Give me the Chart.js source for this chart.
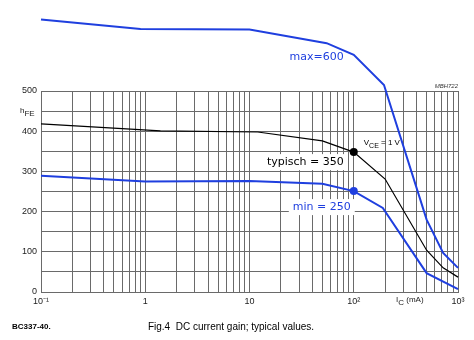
<!DOCTYPE html>
<html><head><meta charset="utf-8">
<script src="https://cdn.jsdelivr.net/npm/chart.js@4"></script>
<style>html,body{margin:0;padding:0;background:#fff}canvas{display:block}</style>
</head><body>
<canvas id="c" width="474" height="340"></canvas>
<script>
// I_C in mA, h_FE values
const maxI = [0.1, 0.9, 10, 55, 100, 195, 500, 720, 1000];
const maxH = [678, 654, 653, 619, 590, 515, 180, 97, 60];
const typI = [0.1, 1.4, 12, 50, 100, 200, 500, 720, 1000];
const typH = [418, 401, 398, 376, 348, 281, 104, 60, 37];
const minI = [0.1, 1, 10, 50, 100, 190, 500, 1000];
const minH = [289, 275, 276, 269, 251, 209, 47, 7];
const markI = [100, 100, 100];
const markH = [590, 348, 251];
const xTicks = [0.1,0.2,0.3,0.4,0.5,0.6,0.7,0.8,0.9,1,2,3,4,5,6,7,8,9,10,20,30,40,50,60,70,80,90,100,200,300,400,500,600,700,800,900,1000];
const xLabels = {0.1:'10\u207B\u00B9', 1:'1', 10:'10', 100:'10\u00B2', 1000:'10\u00B3'};
const yTicks = [0,50,100,150,200,250,300,350,400,450,500];
const yLabels = [0, 100, 200, 300, 400, 500];

const BLUE = '#1f3fdf';
const GRID = '#6a6a6a';
const pts = (xs, ys) => xs.map((x, i) => ({x, y: ys[i]}));

function subText(ctx, x, y, main, sub, rest, size, subSize) {
  ctx.textBaseline = 'alphabetic';
  ctx.textAlign = 'left';
  ctx.font = size + 'px "Liberation Sans", Arial';
  ctx.fillText(main, x, y);
  let w = ctx.measureText(main).width;
  ctx.font = subSize + 'px "Liberation Sans", Arial';
  ctx.fillText(sub, x + w, y + subSize * 0.35);
  w += ctx.measureText(sub).width;
  if (rest) {
    ctx.font = size + 'px "Liberation Sans", Arial';
    ctx.fillText(rest, x + w, y);
  }
}

const annot = {
  id: 'annot',
  afterDatasetsDraw(chart) {
    const ctx = chart.ctx, xs = chart.scales.x, ys = chart.scales.y;
    const px = xs.getPixelForValue(100);
    ctx.save();
    ctx.font = '11px "DejaVu Sans"';
    ctx.textAlign = 'right';
    ctx.textBaseline = 'middle';
    ctx.fillStyle = BLUE;
    ctx.fillText('max=600', px - 10, ys.getPixelForValue(markH[0]) + 2);
    let ty = ys.getPixelForValue(markH[1]) + 10;
    let w = ctx.measureText('typisch = 350').width;
    ctx.fillStyle = '#fff';
    ctx.fillRect(px - 10 - w - 4, ty - 8, w + 8, 16);
    ctx.fillStyle = '#000';
    ctx.fillText('typisch = 350', px - 10, ty);
    let my = ys.getPixelForValue(markH[2]) + 16;
    w = ctx.measureText('min = 250').width;
    ctx.fillStyle = '#fff';
    ctx.fillRect(px - 3 - w - 4, my - 8, w + 8, 16);
    ctx.fillStyle = BLUE;
    ctx.fillText('min = 250', px - 3, my);
    ctx.fillStyle = '#000';
    subText(ctx, px + 10, ys.getPixelForValue(markH[1]) - 7, 'V', 'CE', ' = 1 V', 8, 7);
    ctx.fillStyle = '#222';
    subText(ctx, 20, ys.getPixelForValue(450) + 2, 'h', 'FE', '', 8, 8);
    subText(ctx, 396, 302, 'I', 'C', ' (mA)', 8, 8);
    ctx.font = 'italic 6px "Liberation Sans", Arial';
    ctx.textAlign = 'right';
    ctx.textBaseline = 'alphabetic';
    ctx.fillStyle = '#333';
    ctx.fillText('MBH722', xs.right, ys.top - 3);
    ctx.fillStyle = '#000';
    ctx.font = 'bold 8px "Liberation Sans", Arial';
    ctx.textAlign = 'left';
    ctx.textBaseline = 'middle';
    ctx.fillText('BC337-40.', 12, 327);
    ctx.font = '10px "Liberation Sans", Arial';
    ctx.textAlign = 'center';
    ctx.fillText('Fig.4  DC current gain; typical values.', 231, 327);
    ctx.restore();
  }
};

new Chart(document.getElementById('c'), {
  type: 'line',
  data: {
    datasets: [
      {data: pts(maxI, maxH), borderColor: BLUE, borderWidth: 2, pointRadius: 0, clip: false, tension: 0},
      {data: pts(typI, typH), borderColor: '#000', borderWidth: 1.2, pointRadius: 0, clip: false, tension: 0},
      {data: pts(minI, minH), borderColor: BLUE, borderWidth: 2, pointRadius: 0, clip: false, tension: 0},
      {data: pts(markI, markH), showLine: false, pointRadius: 4, pointBorderWidth: 0,
       pointBackgroundColor: [BLUE, '#000', BLUE], pointBorderColor: [BLUE, '#000', BLUE], clip: false}
    ]
  },
  options: {
    responsive: false,
    animation: false,
    devicePixelRatio: 1,
    layout: {padding: {top: 91, right: 16, left: 0, bottom: 28}},
    plugins: {legend: {display: false}, tooltip: {enabled: false}},
    scales: {
      x: {
        type: 'logarithmic', min: 0.1, max: 1000,
        afterBuildTicks: s => { s.ticks = xTicks.map(v => ({value: v})); },
        afterFit: s => { s.height = 20; },
        grid: {color: GRID, lineWidth: 1, drawTicks: false},
        border: {color: GRID},
        ticks: {
          autoSkip: false, maxRotation: 0, padding: 4, color: '#222',
          font: {family: '"Liberation Sans", Arial', size: 9},
          callback: v => xLabels[v] !== undefined ? xLabels[v] : ''
        }
      },
      y: {
        type: 'linear', min: 0, max: 500,
        afterBuildTicks: s => { s.ticks = yTicks.map(v => ({value: v})); },
        afterFit: s => { s.width = 41; },
        grid: {color: GRID, lineWidth: 1, drawTicks: false},
        border: {color: GRID},
        ticks: {
          padding: 4, color: '#222',
          font: {family: '"Liberation Sans", Arial', size: 9},
          callback: v => yLabels.includes(v) ? String(v) : ''
        }
      }
    }
  },
  plugins: [annot]
});
</script>
</body></html>
